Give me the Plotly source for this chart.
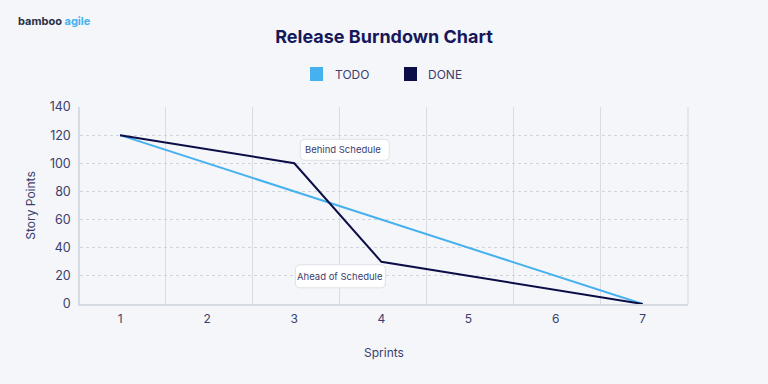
import plotly.graph_objects as go

sprints = [1, 2, 3, 4, 5, 6, 7]
todo = [120, 100, 80, 60, 40, 20, 0]
done = [120, 110, 100, 30, 20, 10, 0]
y_ticks = [0, 20, 40, 60, 80, 100, 120, 140]

TODO_C = "#45b1ee"
DONE_C = "#0c0d47"
TXT = "#3b3e6e"
BG = "#f4f6f9"
FONT = "Inter"

L, R, T, B = 80, 80, 107, 80
W, H = 768, 384
PW, PH = W - L - R, H - T - B

fig = go.Figure()
fig.add_trace(go.Scatter(x=sprints, y=todo, mode="lines", name="TODO",
                         line=dict(color=TODO_C, width=2), showlegend=False))
fig.add_trace(go.Scatter(x=sprints, y=done, mode="lines", name="DONE",
                         line=dict(color=DONE_C, width=2), showlegend=False))

fig.update_layout(
    width=W, height=H,
    paper_bgcolor=BG, plot_bgcolor=BG,
    margin=dict(l=L, r=R, t=T, b=B),
    font=dict(family=FONT, color=TXT, size=12),
    title=dict(text="<b>Release Burndown Chart</b>", x=0.5, xanchor="center",
               y=1 - 37 / H, yanchor="middle",
               font=dict(family=FONT, size=18, color="#16185a")),
    xaxis=dict(range=[0.54, 7.52], tickvals=sprints, ticktext=[str(s) for s in sprints],
               showgrid=False, zeroline=False, showline=True, linecolor="#d6dae2", linewidth=1.5,
               ticks="", tickfont=dict(size=12, color=TXT), ticklabelstandoff=3,
               minor=dict(tick0=0.52, dtick=1, showgrid=True, gridcolor="#d9dce4", gridwidth=1.2),
               title=dict(text="Sprints", font=dict(size=12, color=TXT), standoff=23)),
    yaxis=dict(range=[0, 140], tickvals=y_ticks, showgrid=True, gridcolor="#cfd3dc",
               griddash="dot", zeroline=False, showline=True, linecolor="#d6dae2", linewidth=1.5,
               tickfont=dict(size=12.5, color=TXT), ticklabelstandoff=5,
               title=dict(text="Story Points", font=dict(size=12, color=TXT), standoff=12)),
)

# right plot border
fig.add_shape(type="line", xref="paper", yref="paper", x0=1, x1=1, y0=0, y1=1,
              line=dict(color="#d9dce4", width=1.2))


def px_x(p):
    return (p - L) / PW


def px_y(p):
    return (H - B - p) / PH


# Legend drawn manually
for x0, col, label, tx in [(310, TODO_C, "TODO", 333), (404, DONE_C, "DONE", 426)]:
    fig.add_shape(type="rect", xref="paper", yref="paper",
                  x0=px_x(x0), x1=px_x(x0 + 13), y0=px_y(81), y1=px_y(67),
                  fillcolor=col, line=dict(width=0))
    fig.add_annotation(xref="paper", yref="paper", x=px_x(tx), y=px_y(74),
                       text=label, showarrow=False, xanchor="left", yanchor="middle",
                       font=dict(size=12, color=TXT))

# Logo text
fig.add_annotation(xref="paper", yref="paper", x=px_x(16), y=px_y(21),
                   text="<b><span style='color:#2a2f45'>bamboo</span> <span style='color:#45b1ee'>agile</span></b>",
                   showarrow=False, xanchor="left", yanchor="middle",
                   font=dict(size=11, family=FONT))


def rrect(x0, x1, y0, y1, r=5):
    return (f"M{x0 + r},{y0} L{x1 - r},{y0} Q{x1},{y0} {x1},{y0 + r} "
            f"L{x1},{y1 - r} Q{x1},{y1} {x1 - r},{y1} L{x0 + r},{y1} "
            f"Q{x0},{y1} {x0},{y1 - r} L{x0},{y0 + r} Q{x0},{y0} {x0 + r},{y0} Z")


callouts = [
    # anchor x, anchor y, box px offsets (x0,x1,y0,y1), text offset, text
    (3, 100, (6, 95, 3, 24), (49, 13.5), "Behind Schedule"),
    (4, 30, (-86, 4, -26, -3), (-41, -14.5), "Ahead of Schedule"),
]
for ax, ay, (bx0, bx1, by0, by1), (tx, ty), txt in callouts:
    fig.add_shape(type="path", xref="x", yref="y", xsizemode="pixel", ysizemode="pixel",
                  xanchor=ax, yanchor=ay, path=rrect(bx0, bx1, by0, by1),
                  fillcolor="#ffffff", line=dict(color="#dde0e7", width=1), layer="above")
    fig.add_annotation(x=ax, y=ay, xshift=tx, yshift=ty, text=txt, showarrow=False,
                       font=dict(size=9.5, color=TXT))

fig.write_html("out.html", config={"displayModeBar": False},
               post_script="document.body.style.margin='0';document.body.style.overflow='hidden';")
